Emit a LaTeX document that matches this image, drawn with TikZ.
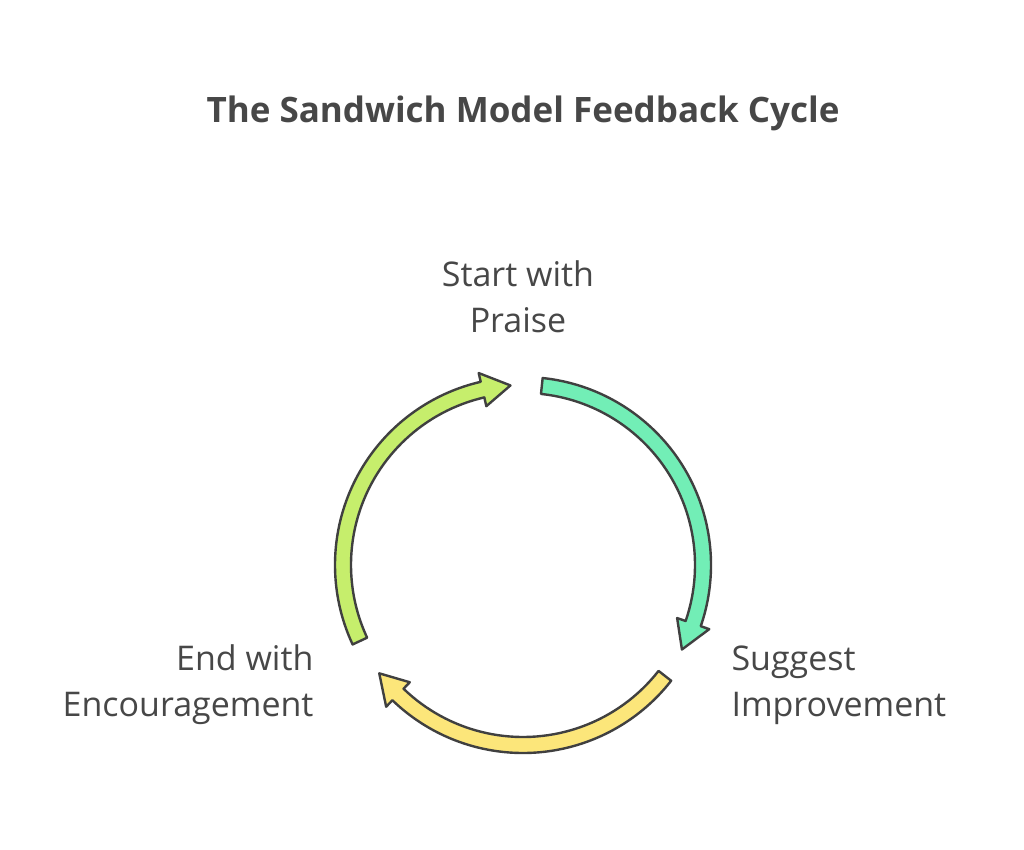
\documentclass[tikz,border=0pt]{standalone}
\usepackage{fontspec}
\setmainfont{Open Sans}
\definecolor{cteal}{HTML}{72EEB6}
\definecolor{cyel}{HTML}{FCE67A}
\definecolor{cgrn}{HTML}{C6EE6C}
\begin{document}
\begin{tikzpicture}[x=1pt,y=1pt,
 arr/.style={draw=black!75,line width=2.4pt,line join=round},
 lab/.style={text=black!72,font=\fontsize{34}{46}\selectfont,align=center}]
\useasboundingbox (0,0) rectangle (1024,849);
\coordinate (c) at (523,284);
\newcommand\cyarrow[3]{%
\filldraw[arr,fill=#3] ([shift={(c)}]#1:188) arc[start angle=#1,end angle=#2,radius=188]
 -- ([shift={(c)}]#2:197) -- ([shift={(c)}]{#2-9}:180) -- ([shift={(c)}]#2:163)
 -- ([shift={(c)}]#2:172) arc[start angle=#2,end angle=#1,radius=172] -- cycle;}
\cyarrow{84}{-19}{cteal}
\cyarrow{-38}{-134}{cyel}
\cyarrow{205}{103}{cgrn}
\node[lab,font=\bfseries\fontsize{35}{42}\selectfont] (t) at (523,736) {The Sandwich Model Feedback Cycle};
\node[lab] (p) at (518,552) {Start with\\Praise};
\node[lab,anchor=west,align=left] (s) at (728,164) {Suggest\\Improvement};
\node[lab,anchor=east,align=right] (e) at (317,164) {End with\\Encouragement};
\end{tikzpicture}
\end{document}
